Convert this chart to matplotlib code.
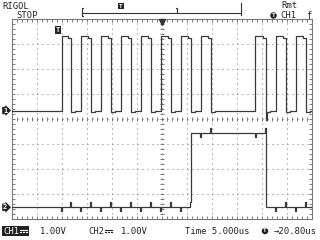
import matplotlib.pyplot as plt
import numpy as np

# time base: us relative to trigger, 5 us/div, 12 div; 1 V/div both channels
t_left = -9.2
t_right = 50.8
trig_delay = 20.8

ch1_rise = [0.86, 4.6, 8.6, 12.6, 16.6, 20.6, 24.6, 28.6, 39.5, 43.6, 47.6]
ch1_fall = [2.6, 6.6, 10.6, 14.6, 18.6, 22.6, 26.6, 30.6, 41.6, 45.6, 49.6]
ch1_high = 3.0
ch1_sag = 2.92
ch1_dip = -0.06
ch1_glitch_t = 41.8
ch1_glitch_v = -0.38
ch1_pos = 0.34          # div

ch2_rise = [26.7]
ch2_fall = [41.7]
ch2_high = 2.97
ch2_spike_rise = -0.15  # pickup at ch1 rising edges
ch2_spike_fall = 0.22   # pickup at ch1 falling edges
ch2_pos = -3.53         # div

trace = "#3a3a3a"
gridc = "#7a7a7a"
ink = "#222222"

fig = plt.figure(figsize=(3.2, 2.4), dpi=100)
fig.patch.set_facecolor("white")

# overlay in screen pixels for the scope decorations
ov = fig.add_axes([0, 0, 1, 1])
ov.set_xlim(0, 320)
ov.set_ylim(240, 0)
ov.axis("off")

ax = fig.add_axes([12 / 320, 21 / 240, 300 / 320, 200 / 240])
ax.set_xlim(t_left, t_right)
ax.set_ylim(-4, 4)

t = np.arange(t_left, t_right + 0.01, 0.2)

ch1 = np.zeros_like(t)
for r, f in zip(ch1_rise, ch1_fall):
    ch1[(t >= r) & (t < f)] = ch1_high
    ch1[(t >= f - 0.5) & (t < f)] = ch1_sag
    ch1[(t >= f) & (t < f + 0.8)] = ch1_dip
ch1[np.argmin(abs(t - ch1_glitch_t))] = ch1_glitch_v

ch2 = np.zeros_like(t)
for r, f in zip(ch2_rise, ch2_fall):
    ch2[(t >= r) & (t < f)] = ch2_high
for r in ch1_rise:
    ch2[np.argmin(abs(t - r))] += ch2_spike_rise
for f in ch1_fall:
    ch2[np.argmin(abs(t - f))] += ch2_spike_fall

ax.plot(t, ch1 + ch1_pos, drawstyle="steps-mid", color=trace, lw=0.9, zorder=5)
ax.plot(t, ch2 + ch2_pos, drawstyle="steps-mid", color=trace, lw=0.9, zorder=5)

# graticule
ax.set_xticks(np.arange(t_left, t_right + 0.01, 5))
ax.set_yticks(np.arange(-4, 4.01, 1))
ax.set_xticks(np.arange(t_left, t_right + 0.01, 1), minor=True)
ax.set_yticks(np.arange(-4, 4.01, 0.2), minor=True)
ax.grid(True, which="major", color=gridc, lw=0.72, linestyle=(0, (1, 4)))
ax.tick_params(which="both", direction="in", top=True, right=True,
               labelbottom=False, labelleft=False, color=gridc)
ax.tick_params(which="major", length=2, width=0.7)
ax.tick_params(which="minor", length=2, width=0.7)
for s in ax.spines.values():
    s.set_color(gridc)
    s.set_linewidth(0.8)

mt = np.arange(t_left, t_right + 0.01, 1)
ax.plot(mt, np.zeros_like(mt), ls="none", marker="|", ms=2.6, mew=0.7, color=gridc)
mv = np.arange(-4, 4.01, 0.2)
ax.plot(np.full_like(mv, trig_delay), mv, ls="none", marker="_", ms=2.6, mew=0.7, color=gridc)

# trigger position and level markers
ax.plot([trig_delay], [3.9], marker="v", ms=4, color="#333333", clip_on=False, zorder=6)
ax.text(0, 3.55, "T", ha="center", va="center", fontsize=5, color="white",
        fontweight="bold", family="DejaVu Sans Mono",
        bbox=dict(boxstyle="square,pad=0.15", fc=ink, ec="none"), zorder=7)

# channel ground markers
for lab, pos in (("1", ch1_pos), ("2", ch2_pos)):
    ax.annotate(lab, xy=(0, pos), xycoords=("axes fraction", "data"),
                xytext=(-7, 0), textcoords="offset pixels", ha="center", va="center",
                fontsize=5, color="white", fontweight="bold", family="DejaVu Sans Mono",
                bbox=dict(boxstyle="rarrow,pad=0.1", fc=ink, ec="none"),
                annotation_clip=False)

mono = ["DejaVu Sans Mono", "DejaVu Sans"]
txt = dict(fontsize=6.4, color=ink, family=mono, va="center", ha="left")

ov.text(2, 6.5, "RIGOL", **txt)
ov.text(16, 16, "STOP", **txt)
ov.text(281, 5.5, "Rmt", **txt)
ov.text(280, 15.5, "CH1", **txt)
ov.text(306, 15.5, "ƒ", **txt)
ov.text(273.5, 15.5, "T", ha="center", va="center", fontsize=4.5, color="white",
        fontweight="bold", family="DejaVu Sans Mono",
        bbox=dict(boxstyle="circle,pad=0.12", fc=ink, ec="none"))

# memory depth bar
ov.plot([82, 241], [12.5, 12.5], color="#333333", lw=0.8)
ov.plot([83, 82, 82, 83], [8, 8, 16, 16], color="#333333", lw=0.8)
ov.plot([176, 177, 177], [8, 8, 12.5], color="#333333", lw=0.8)
ov.plot([241, 241], [3, 15], color="#333333", lw=0.8)
ov.text(121, 6, "T", ha="center", va="center", fontsize=4.5, color="white",
        fontweight="bold", family="DejaVu Sans Mono",
        bbox=dict(boxstyle="square,pad=0.15", fc=ink, ec="none"))


def dc_symbol(x, y, color):
    # DC coupling sign: solid bar over a dashed bar
    ov.plot([x, x + 7], [y - 1.5, y - 1.5], color=color, lw=0.8)
    for dx in (0, 3, 6):
        ov.plot([x + dx, x + dx + 1.2], [y + 1, y + 1], color=color, lw=0.8)


# status line
ov.add_patch(plt.Rectangle((2, 226), 27, 10, fc=ink, ec="none"))
ov.text(3, 231, "CH1", fontsize=6.4, color="white", family=mono, va="center", ha="left")
dc_symbol(20, 231, "white")
ov.text(40, 231, "1.00V", **txt)
ov.text(88, 231, "CH2", **txt)
dc_symbol(105, 231, ink)
ov.text(121, 231, "1.00V", **txt)
ov.text(185, 231, "Time 5.000us", **txt)
ov.text(265, 231, "T", ha="center", va="center", fontsize=4.5, color="white",
        fontweight="bold", family="DejaVu Sans Mono",
        bbox=dict(boxstyle="circle,pad=0.12", fc=ink, ec="none"))
ov.text(317, 231, "→20.80us", **dict(txt, ha="right"))

fig.savefig("out.png", dpi=100)
